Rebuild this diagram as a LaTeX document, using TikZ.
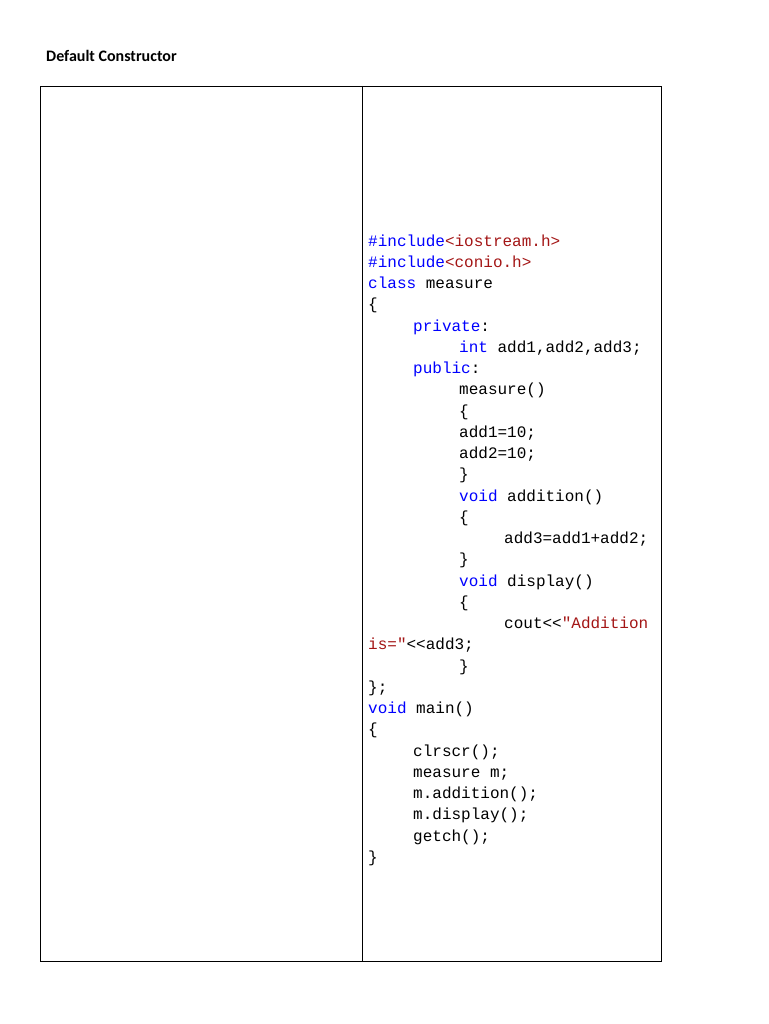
\documentclass[tikz,border=0pt]{standalone}
\usepackage{fontspec}
\setmainfont{Carlito}
\newfontfamily\codefont{Liberation Mono}
\definecolor{kw}{RGB}{0,0,255}
\definecolor{st}{RGB}{163,21,21}
\newcommand{\K}[1]{\textcolor{kw}{#1}}
\newcommand{\Sx}[1]{\textcolor{st}{#1}}
\begin{document}
\begin{tikzpicture}[x=1pt,y=-1pt,
  code/.style={anchor=base west,inner sep=0pt,font=\codefont\fontsize{16}{16}\selectfont}]
\useasboundingbox (0,0) rectangle (768,1024);
\node[anchor=base west,inner sep=0pt,font=\bfseries\fontsize{16}{16}\selectfont] (title) at (46,62) {Default Constructor};
\draw[line width=0.8pt] (40,86) rectangle (661,961);
\draw[line width=0.8pt] (362,86) -- (362,961);
\def\L#1#2#3{\node[code] (l#1) at (#2,{246+21.25*(#1-1)}) {#3};}
\L{1}{368}{\K{\#include}\Sx{<iostream.h>}}
\L{2}{368}{\K{\#include}\Sx{<conio.h>}}
\L{3}{368}{\K{class} measure}
\L{4}{368}{\{}
\L{5}{413}{\K{private}:}
\L{6}{459}{\K{int} add1,add2,add3;}
\L{7}{413}{\K{public}:}
\L{8}{459}{measure()}
\L{9}{459}{\{}
\L{10}{459}{add1=10;}
\L{11}{459}{add2=10;}
\L{12}{459}{\}}
\L{13}{459}{\K{void} addition()}
\L{14}{459}{\{}
\L{15}{504}{add3=add1+add2;}
\L{16}{459}{\}}
\L{17}{459}{\K{void} display()}
\L{18}{459}{\{}
\L{19}{504}{cout<<\Sx{"Addition}}
\L{20}{368}{\Sx{is="}<<add3;}
\L{21}{459}{\}}
\L{22}{368}{\};}
\L{23}{368}{\K{void} main()}
\L{24}{368}{\{}
\L{25}{413}{clrscr();}
\L{26}{413}{measure m;}
\L{27}{413}{m.addition();}
\L{28}{413}{m.display();}
\L{29}{413}{getch();}
\L{30}{368}{\}}
\end{tikzpicture}
\end{document}
